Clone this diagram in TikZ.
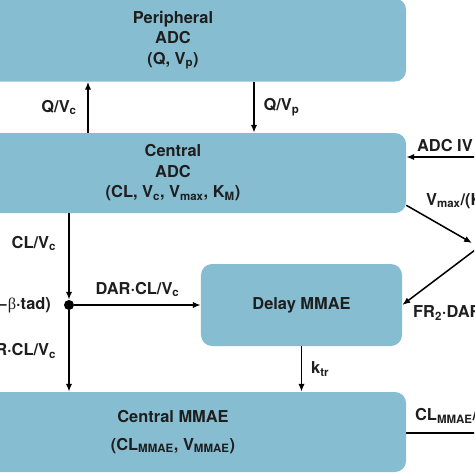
\documentclass[tikz,border=0pt]{standalone}
\usepackage{fontspec}
\setmainfont{TeX Gyre Heros}
\newfontfamily\grkfont{Liberation Serif}
\usetikzlibrary{arrows.meta}
\definecolor{boxblue}{HTML}{87BDD0}
\definecolor{txtgray}{HTML}{1E1E1E}

\begin{document}
\begin{tikzpicture}
      [%%%%%%%%%%%%%%%%%%%%%%%%%%%%%%
      x=0.03cm, y=-0.03cm,
      comp/.style={rectangle, fill=boxblue, rounded corners=0.33cm, inner sep=0pt,
        align=center, text=txtgray, font=\fontsize{14}{17.5}\selectfont\bfseries},
      rate/.style={text=txtgray, font=\fontsize{14}{17.5}\selectfont\bfseries},
      flow/.style={line width=1.3pt, -{Latex[length=2.4mm,width=1.9mm]}},
      ]%%%%%%%%%%%%%%%%%%%%%%%%%%%%%%

      \useasboundingbox (0,0) rectangle (474,474);
      \clip (0,0) rectangle (474,474);

      % compartments
      \node[comp, minimum width=13.98cm, minimum height=2.49cm] (periph) at (173,40)
        {Peripheral\\ADC\\(Q, V\textsubscript{p})};
      \node[comp, minimum width=13.98cm, minimum height=2.4cm] (cadc) at (173,173)
        {Central\\ADC\\(CL, V\textsubscript{c}, V\textsubscript{max}, K\textsubscript{M})};
      \node[comp, minimum width=6.03cm, minimum height=2.46cm] (delay) at (301.5,305)
        {Delay MMAE};
      \node[comp, minimum width=13.98cm, minimum height=2.4cm] (cmmae) at (173,432)
        {Central MMAE\\[6pt](CL\textsubscript{MMAE}, V\textsubscript{MMAE})};
      \node[circle, fill=black, minimum size=0.3cm, inner sep=0pt] (split) at (69,305) {};

      % points outside the frame
      \coordinate (qc) at (88,0);
      \coordinate (qp) at (254,0);
      \coordinate (dose) at (480,157);
      \coordinate (tmdd) at (479,247);
      \coordinate (elim) at (480,433);

      % ADC exchange
      \draw[flow] (cadc.north -| qc) -- (periph.south -| qc)
        node[rate, midway, left=0.2cm] {Q/V\textsubscript{c}};
      \draw[flow] (periph.south -| qp) -- (cadc.north -| qp)
        node[rate, midway, right=0.15cm] {Q/V\textsubscript{p}};
      \draw[flow] (dose) -- (cadc.east |- dose);
      \node[rate, anchor=west] (ivlbl) at (413,146) {ADC IV};

      % target mediated route
      \draw[flow, shorten >=0.24cm] ([yshift=0.24cm]cadc.south east) -- (tmdd);
      \node[rate, anchor=west] (mmlbl) at (422,201) {V\textsubscript{max}/(K};
      \draw[flow, shorten <=0.15cm] (tmdd) -- (delay.east);
      \node[rate, anchor=west] (frlbl) at (409,313) {FR\textsubscript{2}·DAR};

      % linear route
      \draw[flow] (cadc.south -| split) -- (split)
        node[rate, pos=0.35, left=0.25cm] {CL/V\textsubscript{c}};
      \node[rate, anchor=east] (explbl) at (55,305) {(−{\grkfont\mdseries β}·tad)};
      \draw[flow] (split) -- (delay.west)
        node[rate, midway, above=0.1cm] {DAR·CL/V\textsubscript{c}};
      \draw[flow] (split) -- (cmmae.north -| split)
        node[rate, midway, left=0.25cm] {R·CL/V\textsubscript{c}};

      % MMAE
      \draw[flow] (delay.south) -- (cmmae.north -| delay.south)
        node[rate, midway, right=0.15cm] {k\textsubscript{tr}};
      \draw[line width=1.3pt] (cmmae.east |- elim) -- (elim);
      \node[rate, anchor=west] (cllbl) at (411,416) {CL\textsubscript{MMAE}/V};
    \end{tikzpicture}
\end{document}
